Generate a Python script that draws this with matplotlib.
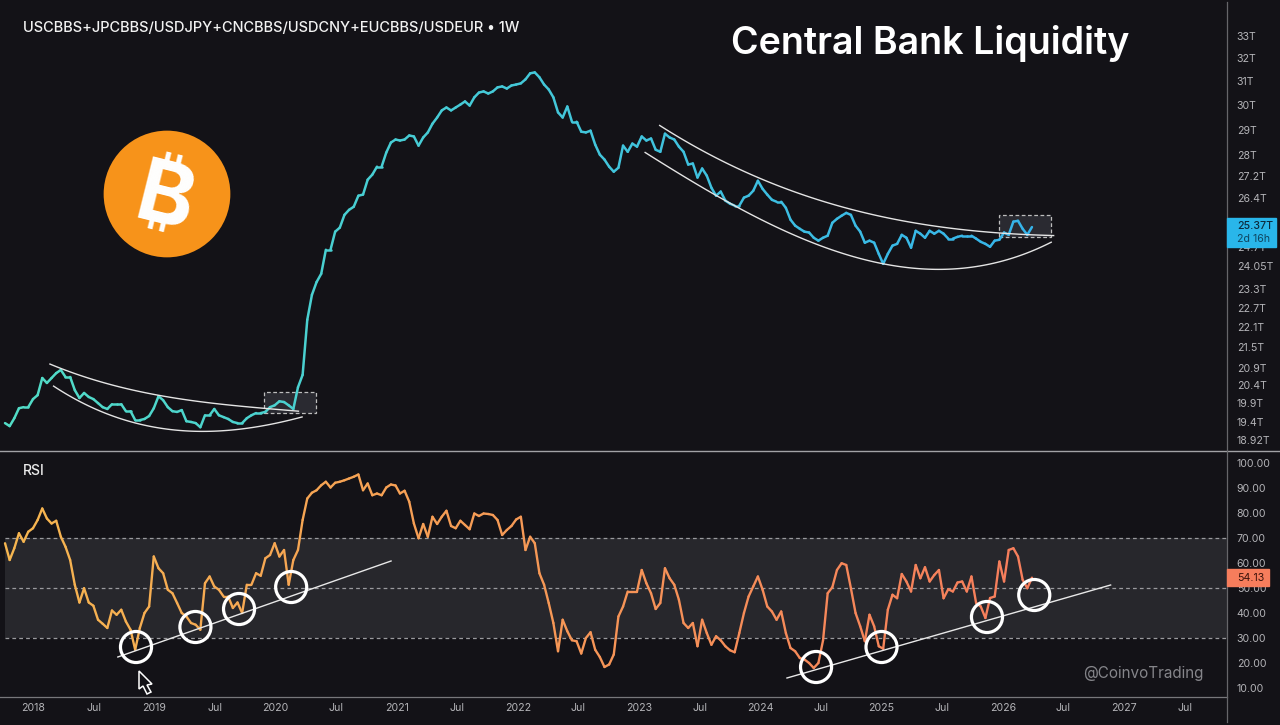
import numpy as np
import pandas as pd
import matplotlib
matplotlib.use("Agg")
import matplotlib.pyplot as plt
from matplotlib.collections import LineCollection
from matplotlib.colors import to_rgb
from matplotlib.lines import Line2D
from matplotlib.patches import Circle, Polygon, Rectangle
from matplotlib.ticker import NullLocator

plt.rcParams["font.family"] = ["Inter", "DejaVu Sans"]

# =============================================================================
# DATA (one value every two weeks)
# =============================================================================

START_DATE = "2017-10-09"

liquidity = [
    19.37, 19.29, 19.50, 19.77, 19.80, 19.80, 20.02, 20.13, 20.61, 20.47,
    20.61, 20.75, 20.84, 20.64, 20.64, 20.27, 20.05, 20.19, 20.08, 20.02,
    19.91, 19.80, 19.75, 19.88, 19.88, 19.88, 19.69, 19.69, 19.45, 19.45,
    19.48, 19.56, 19.77, 20.10, 19.99, 19.80, 19.69, 19.67, 19.72, 19.42,
    19.40, 19.37, 19.26, 19.58, 19.58, 19.75, 19.58, 19.53, 19.48, 19.40,
    19.37, 19.37, 19.50, 19.58, 19.64, 19.64, 19.67, 19.80, 19.85, 19.96,
    19.94, 19.85, 19.75, 20.35, 20.70, 22.33, 23.11, 23.52, 23.79, 24.59,
    24.59, 25.21, 25.35, 25.80, 25.98, 26.09, 26.49, 26.53, 27.08, 27.27,
    27.57, 27.57, 28.11, 28.50, 28.62, 28.58, 28.62, 28.78, 28.74, 28.38,
    28.70, 28.90, 29.25, 29.50, 29.79, 29.91, 29.79, 29.91, 30.03, 30.16,
    29.99, 30.33, 30.53, 30.58, 30.49, 30.58, 30.75, 30.79, 30.70, 30.83,
    30.87, 30.92, 31.09, 31.35, 31.39, 31.18, 30.87, 30.66, 30.33, 29.71,
    29.50, 29.95, 29.33, 29.33, 28.93, 28.90, 28.97, 28.42, 28.03, 27.84,
    27.57, 27.38, 27.53, 28.38, 28.14, 28.46, 28.34, 28.74, 28.58, 28.66,
    28.22, 28.14, 28.85, 28.70, 28.62, 28.34, 28.14, 27.65, 27.69, 27.16,
    27.50, 27.23, 26.78, 26.49, 26.64, 26.31, 26.20, 26.13, 26.13, 26.42,
    26.49, 26.67, 27.04, 26.74, 26.53, 26.34, 26.27, 26.27, 26.05, 25.63,
    25.42, 25.31, 25.21, 25.18, 25.00, 24.90, 25.00, 25.07, 25.52, 25.66,
    25.77, 25.87, 25.80, 25.42, 25.21, 24.83, 24.90, 24.83, 24.45, 24.12,
    24.45, 24.73, 24.79, 25.10, 25.00, 24.66, 25.24, 25.14, 25.00, 25.24,
    25.14, 25.24, 25.14, 24.97, 24.97, 25.03, 25.07, 25.07, 25.07, 24.97,
    24.86, 24.79, 24.69, 24.90, 24.93, 25.18, 25.10, 25.56, 25.59, 25.31,
    25.10, 25.37,
]

rsi = [
    67.9, 61.2, 65.9, 71.9, 68.5, 72.5, 73.9, 77.2, 81.8, 77.8,
    75.8, 76.9, 70.5, 66.5, 61.2, 51.3, 44.2, 49.9, 44.2, 42.9,
    37.3, 35.7, 34.0, 41.0, 39.3, 41.3, 36.6, 33.3, 25.3, 34.0,
    40.0, 42.6, 62.6, 57.9, 55.9, 49.3, 47.9, 44.0, 40.0, 38.6,
    36.0, 35.3, 33.3, 51.9, 54.6, 50.6, 49.3, 46.6, 46.6, 42.0,
    44.2, 40.0, 51.3, 51.3, 55.9, 54.9, 61.9, 63.2, 67.9, 62.6,
    65.2, 51.3, 61.2, 65.2, 77.2, 85.8, 88.1, 89.1, 91.1, 92.5,
    90.2, 92.1, 92.5, 93.1, 93.8, 94.5, 95.4, 89.1, 91.8, 87.1,
    87.8, 87.1, 90.2, 91.4, 91.0, 87.8, 88.9, 84.5, 75.8, 69.9,
    75.6, 70.5, 78.5, 75.6, 78.5, 80.9, 74.8, 73.9, 76.9, 75.2,
    73.5, 79.8, 78.8, 79.8, 79.6, 79.2, 77.2, 71.2, 73.2, 74.8,
    77.4, 78.5, 65.2, 70.5, 67.9, 55.9, 51.3, 44.0, 36.0, 24.7,
    37.3, 32.7, 29.1, 28.7, 23.8, 30.0, 32.3, 25.3, 22.4, 18.4,
    19.4, 23.4, 38.6, 42.6, 48.6, 48.6, 48.6, 57.2, 51.9, 47.9,
    41.6, 44.0, 57.9, 53.9, 51.3, 45.3, 36.0, 34.0, 36.0, 26.7,
    37.3, 32.0, 27.3, 30.7, 29.1, 26.7, 25.1, 24.3, 32.0, 40.0,
    46.6, 50.6, 54.6, 49.3, 42.6, 40.6, 37.3, 40.6, 32.0, 26.0,
    24.7, 22.0, 21.4, 20.0, 18.0, 20.0, 29.0, 47.9, 50.3, 57.2,
    59.9, 59.2, 49.9, 40.0, 34.7, 28.7, 39.3, 34.7, 26.7, 25.7,
    41.3, 47.3, 45.9, 55.6, 52.6, 48.6, 59.2, 53.9, 58.3, 52.6,
    55.2, 57.2, 45.9, 49.5, 48.6, 52.2, 52.6, 48.6, 54.6, 44.0,
    42.6, 38.0, 46.0, 46.6, 60.6, 52.6, 65.2, 65.9, 62.6, 53.3,
    49.9, 54.13,
]

price_ticks = [33, 32, 31, 30, 29, 28, 27.2, 26.4, 24.7, 24.05, 23.3, 22.7,
               22.1, 21.5, 20.9, 20.4, 19.9, 19.4, 18.92]
price_labels = ["33T", "32T", "31T", "30T", "29T", "28T", "27.2T", "26.4T",
                "24.7T", "24.05T", "23.3T", "22.7T", "22.1T", "21.5T", "20.9T",
                "20.4T", "19.9T", "19.4T", "18.92T"]
rsi_ticks = [100, 90, 80, 70, 60, 50, 40, 30, 20, 10]

year_ticks = [2018 + 0.5 * i for i in range(19)]
year_labels = ["2018", "Jul", "2019", "Jul", "2020", "Jul", "2021", "Jul", "2022",
               "Jul", "2023", "Jul", "2024", "Jul", "2025", "Jul", "2026", "Jul",
               "2027"]
year_ticks.append(2027.5)
year_labels.append("Jul")

# drawn annotations: channel curves, boxes, trendlines and circles
upper_left_x = [2018.14, 2019.03, 2019.90, 2020.19]
upper_left_y = [21.01, 20.13, 19.77, 19.69]
lower_left_x = [2018.17, 2018.86, 2019.38, 2019.79, 2020.22]
lower_left_y = [20.38, 19.37, 19.13, 19.26, 19.53]
upper_right_x = [2023.17, 2023.98, 2024.74, 2025.43, 2025.98, 2026.42]
upper_right_y = [29.18, 27.16, 26.02, 25.39, 25.18, 25.07]
lower_right_x = [2023.05, 2023.63, 2024.47, 2025.01, 2025.43, 2025.84, 2026.40]
lower_right_y = [28.14, 26.45, 24.83, 24.12, 23.92, 24.05, 24.86]

box_left = (2019.906, 2020.335, 19.64, 20.21)
box_right = (2025.97, 2026.40, 25.03, 25.80)

trend_left_x = [2018.70, 2020.954]
trend_left_y = [22.4, 60.8]
trend_right_x = [2024.22, 2026.89]
trend_right_y = [14.0, 51.2]

circle_x = [2018.85, 2019.34, 2019.70, 2020.13, 2024.46, 2025.00, 2025.87, 2026.26]
circle_y = [26.4, 34.4, 41.6, 50.4, 18.4, 26.4, 38.4, 47.2]

# =============================================================================
# STYLE
# =============================================================================

BG = "#131217"
TICK = "#b4b4b8"
W, H = 1280, 725
PLOT_R = 1227


def fx(px):
    return px / W


def fy(px):
    return 1 - px / H


def gradient_line(ax, x, y, c0, c1, lw=1.7):
    pts = np.column_stack([x, y])
    segs = np.stack([pts[:-1], pts[1:]], axis=1)
    t = np.linspace(0, 1, len(segs))[:, None]
    cols = (1 - t) * np.array(to_rgb(c0)) + t * np.array(to_rgb(c1))
    lc = LineCollection(segs, colors=cols, linewidths=lw, capstyle="round",
                        joinstyle="round", zorder=3)
    ax.add_collection(lc)


def channel(ax, xs, ys):
    coef = np.polyfit(xs, np.log(ys), 3)
    xx = np.linspace(xs[0], xs[-1], 120)
    ax.plot(xx, np.exp(np.polyval(coef, xx)), color="#e4e4e4", lw=1.0, zorder=4)


def dashed_box(ax, box):
    x0, x1, y0, y1 = box
    ax.add_patch(Rectangle((x0, y0), x1 - x0, y1 - y0, facecolor="#2a2a31",
                           edgecolor="#bdbdbd", lw=0.9, ls=(0, (3, 2)), zorder=2))


# =============================================================================
# FIGURE
# =============================================================================

dates = pd.date_range(START_DATE, periods=len(liquidity), freq="14D")
x = dates.year + (dates.dayofyear - 1) / 365.25

fig = plt.figure(figsize=(W / 100, H / 100), dpi=100, facecolor=BG)
ax_top = fig.add_axes([0, fy(451), fx(PLOT_R), 451 / H], facecolor=BG)
ax_rsi = fig.add_axes([0, fy(697), fx(PLOT_R), (697 - 451) / H], facecolor=BG)

XLIM = (2017.728, 2027.85)

# liquidity panel
ax_top.set_yscale("log")
ax_top.set_xlim(XLIM)
ax_top.set_ylim(18.64, 34.68)
gradient_line(ax_top, x, liquidity, "#52dcc6", "#36b4ea", lw=1.8)
channel(ax_top, upper_left_x, upper_left_y)
channel(ax_top, lower_left_x, lower_left_y)
channel(ax_top, upper_right_x, upper_right_y)
channel(ax_top, lower_right_x, lower_right_y)
dashed_box(ax_top, box_left)
dashed_box(ax_top, box_right)
ax_top.yaxis.tick_right()
ax_top.set_yticks(price_ticks, price_labels)
ax_top.yaxis.set_minor_locator(NullLocator())
ax_top.set_xticks([])
ax_top.tick_params(axis="y", length=0, pad=7, labelsize=7.6, labelcolor=TICK)

# RSI panel
ax_rsi.set_xlim(XLIM)
ax_rsi.set_ylim(6.4, 104.8)
start = x[0]
ax_rsi.fill_between([start, XLIM[1]], 30, 70, color="#27272c", lw=0, zorder=1)
for level in [30, 50, 70]:
    ax_rsi.plot([start, XLIM[1]], [level, level], color="#9a9a9e", lw=0.9,
                ls=(0, (3, 2.5)), zorder=2)
gradient_line(ax_rsi, x, rsi, "#f6b650", "#f67d5c", lw=1.7)
ax_rsi.plot(trend_left_x, trend_left_y, color="#e8e8e8", lw=1.0, zorder=4)
ax_rsi.plot(trend_right_x, trend_right_y, color="#e8e8e8", lw=1.0, zorder=4)
ax_rsi.scatter(circle_x, circle_y, s=500, facecolors="none", edgecolors="white",
               linewidths=2.3, zorder=5)
ax_rsi.yaxis.tick_right()
ax_rsi.set_yticks(rsi_ticks, [f"{v:.2f}" for v in rsi_ticks])
ax_rsi.set_xticks(year_ticks, year_labels)
ax_rsi.tick_params(axis="y", length=0, pad=7, labelsize=7.6, labelcolor=TICK)
ax_rsi.tick_params(axis="x", length=0, pad=4.5, labelsize=7.6, labelcolor=TICK)

for ax in (ax_top, ax_rsi):
    for s in ax.spines.values():
        s.set_visible(False)

# panel separators
fig.add_artist(Line2D([0, 1], [fy(451)] * 2, color="#a2a2a6", lw=1.0))
fig.add_artist(Line2D([0, fx(PLOT_R)], [fy(697)] * 2, color="#77777b", lw=0.9))
fig.add_artist(Line2D([fx(PLOT_R)] * 2, [fy(2), fy(722)], color="#66666a", lw=0.9))

# header texts
fig.text(fx(23), fy(28), "USCBBS+JPCBBS/USDJPY+CNCBBS/USDCNY+EUCBBS/USDEUR • 1W",
         color="#f2f2f2", fontsize=10.5, fontweight="medium", va="center")
fig.text(fx(731), fy(44), "Central Bank Liquidity", color="white", fontsize=27.1,
         fontweight="semibold", va="center")
fig.text(fx(23), fy(471), "RSI", color="#ececec", fontsize=10, fontweight="medium",
         va="center")
fig.text(fx(1083), fy(673), "@CoinvoTrading", color="#85858a", fontsize=11,
         va="center")

# last value tags
fig.add_artist(Rectangle((fx(PLOT_R), fy(247)), 49 / W, 29 / H, color="#29b6ea",
                         transform=fig.transFigure, zorder=6))
fig.text(fx(1237), fy(226), "25.37T", color="#0c2b3e", fontsize=7.6,
         fontweight="medium", va="center", zorder=7)
fig.text(fx(1237), fy(239), "2d 16h", color="#0f4560", fontsize=7.6, va="center",
         zorder=7)
fig.add_artist(Rectangle((fx(PLOT_R), fy(586)), 42 / W, 17 / H, color="#f67d5c",
                         transform=fig.transFigure, zorder=6))
fig.text(fx(1237.5), fy(578), "54.13", color="#3a120a", fontsize=7.6, va="center",
         zorder=7)

# bitcoin logo
ax_btc = fig.add_axes([fx(103), fy(258), 128 / W, 128 / H])
ax_btc.set_xlim(-1, 1)
ax_btc.set_ylim(-1, 1)
ax_btc.axis("off")
ax_btc.add_patch(Circle((0, 0), 0.99, color="#f7931a", lw=0))
ax_btc.text(-0.04, -0.13, "\u20bf", color="white", fontsize=62, fontweight="bold",
            ha="center", va="center", rotation=-14,
            family=["Inter", "Noto Sans", "Roboto", "Open Sans", "Lato"])

# mouse cursor
cursor_px = [(139, 671), (139, 689), (143, 686), (147, 694), (151, 692), (147, 685),
             (152, 684)]
fig.add_artist(Polygon([(fx(a), fy(b)) for a, b in cursor_px], closed=True,
                       facecolor=BG, edgecolor="white", lw=1.1,
                       transform=fig.transFigure, zorder=8))

fig.savefig("out.png", dpi=100, facecolor=BG)
